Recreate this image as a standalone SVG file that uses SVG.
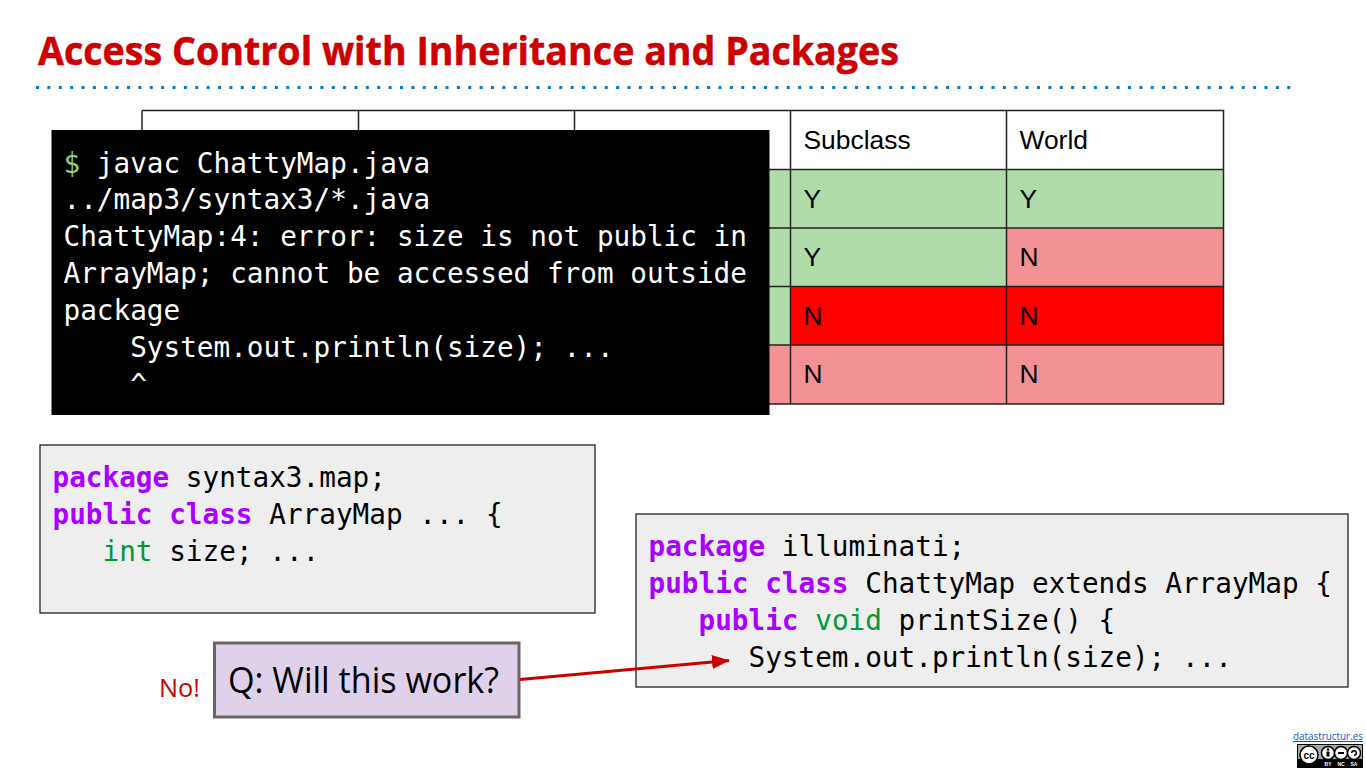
<svg xmlns="http://www.w3.org/2000/svg" width="1366" height="768" viewBox="0 0 1366 768">
<style>
.m{font-family:"DejaVu Sans Mono","Liberation Mono",monospace;font-size:27.7px;white-space:pre}
.t{font-family:"Liberation Sans",Arial,sans-serif;font-size:26.4px;fill:#000}
.k{fill:#a0f;font-weight:bold}
.g{fill:#093}
.w{fill:#fff}
.c{fill:#000}
.b{fill:#eee;stroke:#222;stroke-width:1.3}
.l{stroke:#222;stroke-width:1.5;fill:none}
</style>
<defs><marker id="a" markerUnits="userSpaceOnUse" markerWidth="20" markerHeight="14" refX="17" refY="7" orient="auto"><path d="M0 0L17.500 7L0 14z" fill="#c00"/></marker></defs>
<rect width="1366" height="768" fill="#fff"/>
<g id="title"><text x="38" y="64.500" font-family="Open Sans,Noto Sans,sans-serif" font-weight="700" font-size="40" fill="#c00" stroke="#c00" stroke-width="0.5" textLength="861" lengthAdjust="spacingAndGlyphs">Access Control with Inheritance and Packages</text>
<line x1="36" y1="87.500" x2="1291" y2="87.500" stroke="#0b78c9" stroke-width="3" stroke-dasharray="3 8.375"/></g>
<g id="table">
<rect x="790" y="169" width="216" height="59" fill="#b0dcaa"/><rect x="1006" y="169" width="217" height="59" fill="#b0dcaa"/>
<rect x="790" y="228" width="216" height="59" fill="#b0dcaa"/><rect x="1006" y="228" width="217" height="59" fill="#f29295"/>
<rect x="790" y="287" width="433" height="58" fill="#f00"/>
<rect x="790" y="345" width="433" height="59" fill="#f29295"/>
<rect x="760" y="169" width="30" height="118" fill="#b0dcaa"/><rect x="760" y="287" width="30" height="58" fill="#b0dcaa"/><rect x="760" y="345" width="30" height="59" fill="#f29295"/>
<path class="l" d="M142 110.500H1223.500V404H760M142 110.500V135M358.500 110.500V135M574.500 110.500V135M790.500 110.500V404M1006.500 110.500V404M760 169.500H1223.500M760 228H1223.500M760 286.500H1223.500M760 345H1223.500"/>
<text class="t" x="803.500" y="149">Subclass</text><text class="t" x="1019.500" y="149">World</text>
<text class="t" x="803.500" y="208">Y</text><text class="t" x="1019.500" y="208">Y</text>
<text class="t" x="803.500" y="266">Y</text><text class="t" x="1019.500" y="266">N</text>
<text class="t" x="803.500" y="325">N</text><text class="t" x="1019.500" y="325">N</text>
<text class="t" x="803.500" y="383">N</text><text class="t" x="1019.500" y="383">N</text>
</g>
<g id="terminal"><rect x="51.500" y="130" width="718" height="285" fill="#000"/>
<text class="m w" x="63.500" y="172.500"><tspan fill="#8fce8a">$</tspan> javac ChattyMap.java</text>
<text class="m w" x="63.500" y="209.400">../map3/syntax3/*.java</text>
<text class="m w" x="63.500" y="246.300">ChattyMap:4: error: size is not public in</text>
<text class="m w" x="63.500" y="283.200">ArrayMap; cannot be accessed from outside</text>
<text class="m w" x="63.500" y="320.100">package</text>
<text class="m w" x="63.500" y="357">    System.out.println(size); ...</text>
<text class="m w" x="63.500" y="394">    ^</text></g>
<g id="arraymap"><rect class="b" x="40" y="445" width="555" height="168"/>
<text class="m c" x="52.500" y="487.300"><tspan class="k">package</tspan> syntax3.map;</text>
<text class="m c" x="52.500" y="524.200"><tspan class="k">public class</tspan> ArrayMap ... {</text>
<text class="m c" x="52.500" y="561.100">   <tspan class="g">int</tspan> size; ...</text></g>
<g id="chattymap"><rect class="b" x="636" y="514" width="712" height="173"/>
<text class="m c" x="648.500" y="556"><tspan class="k">package</tspan> illuminati;</text>
<text class="m c" x="648.500" y="593"><tspan class="k">public class</tspan> ChattyMap extends ArrayMap {</text>
<text class="m c" x="648.500" y="630">   <tspan class="k">public</tspan> <tspan class="g">void</tspan> printSize() {</text>
<text class="m c" x="648.500" y="667">      System.out.println(size); ...</text></g>
<g id="question"><rect x="214.500" y="643" width="304.500" height="74" fill="#dfd1ea" stroke="#666" stroke-width="3"/>
<text x="228" y="693" font-family="Open Sans,Noto Sans,sans-serif" font-size="36" fill="#000" textLength="271" lengthAdjust="spacingAndGlyphs">Q: Will this work?</text></g>
<g id="no"><text x="159" y="697" font-family="Open Sans,Noto Sans,sans-serif" font-size="26" fill="#c00" textLength="41" lengthAdjust="spacingAndGlyphs">No!</text></g>
<g id="connectors"><line x1="520" y1="679.500" x2="729" y2="660.500" stroke="#c00" stroke-width="3" marker-end="url(#a)"/></g>
<g id="credit"><text x="1293" y="740" font-family="Open Sans,Noto Sans,sans-serif" font-size="10.500" fill="#15c" text-decoration="underline" textLength="70" lengthAdjust="spacingAndGlyphs">datastructur.es</text>
<rect x="1297" y="744" width="66" height="24" fill="#000"/>
<rect x="1298" y="745" width="64" height="14" fill="#aaa"/>
<g fill="#fff" stroke="#000" stroke-width="1.500"><circle cx="1309" cy="755" r="9"/><circle cx="1328" cy="753" r="6.500"/><circle cx="1341" cy="753" r="6.500"/><circle cx="1354" cy="753" r="6.500"/></g>
<g fill="#000"><circle cx="1328" cy="749.500" r="1.300"/><rect x="1326.500" y="751.500" width="3" height="5"/><rect x="1338" y="752" width="6" height="2"/><path d="M1351 753a3 3 0 1 1 3 3v-1.500a1.500 1.500 0 1 0-1.500-1.500z"/></g>
<g font-family="Liberation Sans,sans-serif" font-weight="700" font-size="5" fill="#fff" text-anchor="middle"><text x="1328" y="766">BY</text><text x="1341" y="766">NC</text><text x="1354" y="766">SA</text></g>
<text x="1309" y="759" font-family="Liberation Sans,sans-serif" font-weight="700" font-size="10" fill="#000" text-anchor="middle">cc</text></g>
</svg>
